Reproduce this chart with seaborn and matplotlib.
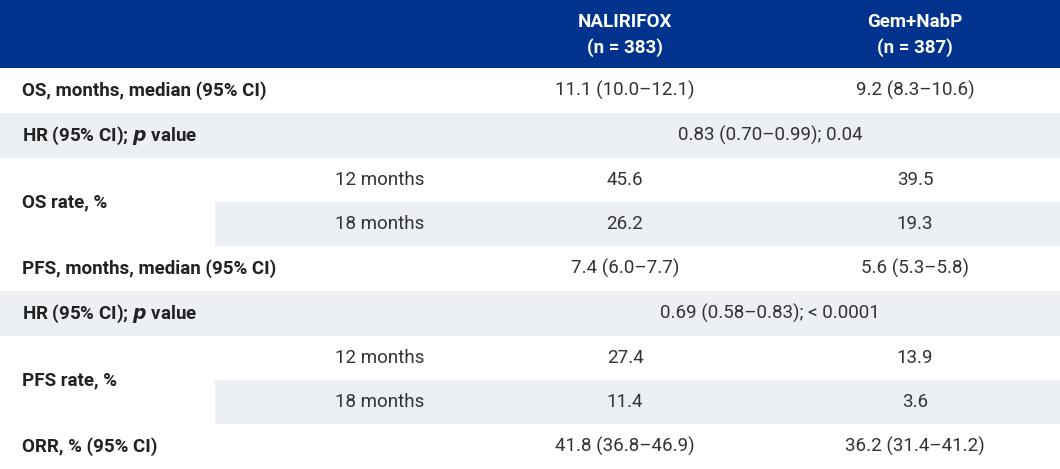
import matplotlib
matplotlib.use("Agg")
import matplotlib.pyplot as plt
import seaborn as sns
from matplotlib.patches import Rectangle

sns.set_theme(style="white")
plt.rcParams['font.family'] = ['Roboto', 'DejaVu Sans']

headers = ["NALIRIFOX\n(n = 383)", "Gem+NabP\n(n = 387)"]
row_labels = ["OS, months, median (95% CI)", "HR (95% CI); $\\boldsymbol{p}$ value", "OS rate, %", "",
              "PFS, months, median (95% CI)", "HR (95% CI); $\\boldsymbol{p}$ value", "PFS rate, %", "",
              "ORR, % (95% CI)"]
sub_labels = ["", "", "12 months", "18 months", "", "", "12 months", "18 months", ""]
col1 = ["11.1 (10.0–12.1)", "", "45.6", "26.2", "7.4 (6.0–7.7)", "", "27.4", "11.4", "41.8 (36.8–46.9)"]
col2 = ["9.2 (8.3–10.6)", "", "39.5", "19.3", "5.6 (5.3–5.8)", "", "13.9", "3.6", "36.2 (31.4–41.2)"]
merged = ["", "0.83 (0.70–0.99); 0.04", "", "", "", "0.69 (0.58–0.83); < 0.0001", "", "", ""]
shade = [False, True, False, True, False, True, False, True, False]
shade_x0 = [0, 0, 0, 215, 0, 0, 0, 215, 0]

W, H = 1060, 469
header_h = 68
row_edges = [68, 113, 158, 202, 246, 291, 336, 380, 424, 469]
blue = "#00338d"
gray = "#eceff4"

fig = plt.figure(figsize=(10.6, 4.69), dpi=100)
ax = fig.add_axes([0, 0, 1, 1])
ax.set_xlim(0, W)
ax.set_ylim(H, 0)
ax.axis("off")

ax.add_patch(Rectangle((0, 0), W, header_h, color=blue, lw=0))
for h, x in zip(headers, [625, 915]):
    ax.text(x, header_h / 2 + 1, h, ha="center", va="center", color="white",
            fontsize=13.5, fontweight="bold", linespacing=1.55)

fs = 13.5
for i in range(len(row_labels)):
    y0, y1 = row_edges[i], row_edges[i + 1]
    yc = (y0 + y1) / 2
    if shade[i]:
        ax.add_patch(Rectangle((shade_x0[i], y0), W - shade_x0[i], y1 - y0, color=gray, lw=0))
    if row_labels[i]:
        if sub_labels[i]:
            yc_lab = y1
        else:
            yc_lab = yc
        ax.text(22, yc_lab, row_labels[i], ha="left", va="center", fontsize=fs,
                fontweight="bold", color="#222222")
    if sub_labels[i]:
        ax.text(380, yc, sub_labels[i], ha="center", va="center", fontsize=fs, color="#333333")
    if merged[i]:
        ax.text(770, yc, merged[i], ha="center", va="center", fontsize=fs, color="#333333")
    if col1[i]:
        ax.text(625, yc, col1[i], ha="center", va="center", fontsize=fs, color="#333333")
    if col2[i]:
        ax.text(915, yc, col2[i], ha="center", va="center", fontsize=fs, color="#333333")

fig.savefig("out.png", dpi=100)
